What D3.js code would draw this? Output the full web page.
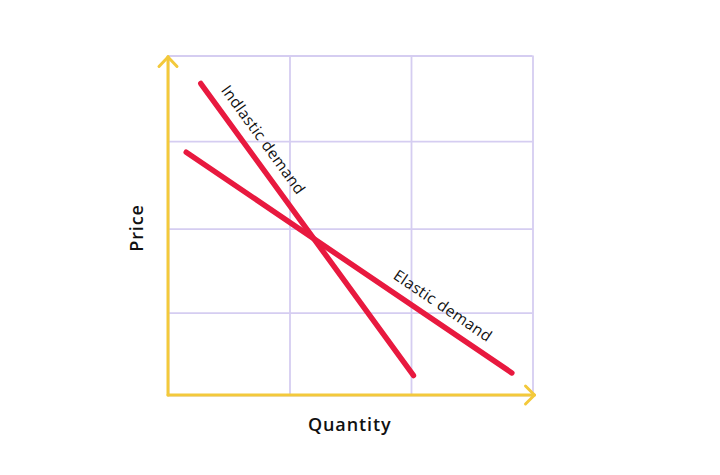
<!DOCTYPE html>
<html>
<head>
<meta charset="utf-8">
<script src="https://cdn.jsdelivr.net/npm/d3@7"></script>
<style>
  html, body { margin: 0; padding: 0; background: #ffffff; }
  svg { display: block; }
  text { font-family: "Open Sans", "Inter", sans-serif; fill: #111; }
</style>
</head>
<body>
<svg id="chart" width="720" height="475"></svg>
<script>
// ---- data ----
const xLabel = "Quantity";
const yLabel = "Price";
const quantityGrid = [0, 1, 2, 3];
const priceGrid = [0, 0.97, 1.96, 2.99, 4];
const inelasticQ = [0.27, 2.02];
const inelasticP = [3.67, 0.23];
const elasticQ = [0.15, 2.83];
const elasticP = [2.86, 0.26];
const curveNames = ["Indlastic demand", "Elastic demand"];

// ---- layout ----
const svg = d3.select("#chart");
const x = d3.scaleLinear().domain([0, 3]).range([168, 532.5]);
const y = d3.scaleLinear().domain([0, 4]).range([395, 55.5]);

const gridColor = "#d5cdf1";
const axisColor = "#f3c93b";
const lineColor = "#e8193f";

// grid
const gx = d3.axisBottom(x).tickValues(quantityGrid).tickSize(-(y(0) - y(4))).tickFormat("");
const gy = d3.axisLeft(y).tickValues(priceGrid).tickSize(-(x(3) - x(0))).tickFormat("");
const gxg = svg.append("g").attr("transform", `translate(0,${y(0)})`).call(gx);
const gyg = svg.append("g").attr("transform", `translate(${x(0)},0)`).call(gy);
[gxg, gyg].forEach(g => {
  g.select(".domain").remove();
  g.selectAll(".tick line").attr("stroke", gridColor).attr("stroke-width", 1.8);
});

// axes with arrows
const ax = svg.append("g").attr("fill", "none").attr("stroke", axisColor)
  .attr("stroke-width", 3).attr("stroke-linecap", "round").attr("stroke-linejoin", "round");
ax.append("line").attr("x1", x(0)).attr("y1", y(0)).attr("x2", x(3) + 2).attr("y2", y(0));
ax.append("line").attr("x1", x(0)).attr("y1", y(0)).attr("x2", x(0)).attr("y2", y(4) + 1);
ax.append("path").attr("d", `M${x(3) - 7},${y(0) - 9} L${x(3) + 2},${y(0)} L${x(3) - 7},${y(0) + 9}`);
ax.append("path").attr("d", `M${x(0) - 9},${y(4) + 11} L${x(0)},${y(4) + 1.5} L${x(0) + 9},${y(4) + 11}`);

// demand lines
const curves = [
  { name: curveNames[0], q: inelasticQ, p: inelasticP, frac: 0.228, off: 12 },
  { name: curveNames[1], q: elasticQ, p: elasticP, frac: 0.759, off: 11.5 }
];
const line = d3.line().x(d => x(d[0])).y(d => y(d[1]));
curves.forEach(c => {
  const pts = d3.zip(c.q, c.p);
  svg.append("path").attr("d", line(pts)).attr("fill", "none")
    .attr("stroke", lineColor).attr("stroke-width", 5.5).attr("stroke-linecap", "round");
  const x0 = x(c.q[0]), y0 = y(c.p[0]), x1 = x(c.q[1]), y1 = y(c.p[1]);
  const len = Math.hypot(x1 - x0, y1 - y0);
  const dx = (x1 - x0) / len, dy = (y1 - y0) / len;
  const nx = dy, ny = -dx;
  const cx = x0 + dx * len * c.frac + nx * c.off;
  const cy = y0 + dy * len * c.frac + ny * c.off;
  const ang = Math.atan2(dy, dx) * 180 / Math.PI;
  svg.append("text").attr("transform", `translate(${cx},${cy}) rotate(${ang})`)
    .attr("text-anchor", "middle").attr("font-size", 15.5).attr("font-weight", 500)
    .attr("letter-spacing", 0.4)
    .text(c.name);
});

// axis titles
svg.append("text").attr("x", (x(0) + x(3)) / 2 - 0.5).attr("y", 431)
  .attr("text-anchor", "middle").attr("font-size", 18).attr("font-weight", 600)
  .attr("letter-spacing", 0.9).text(xLabel);
svg.append("text").attr("transform", `translate(143,228) rotate(-90)`)
  .attr("text-anchor", "middle").attr("font-size", 18).attr("font-weight", 600)
  .attr("letter-spacing", 0.9).text(yLabel);
</script>
</body>
</html>
